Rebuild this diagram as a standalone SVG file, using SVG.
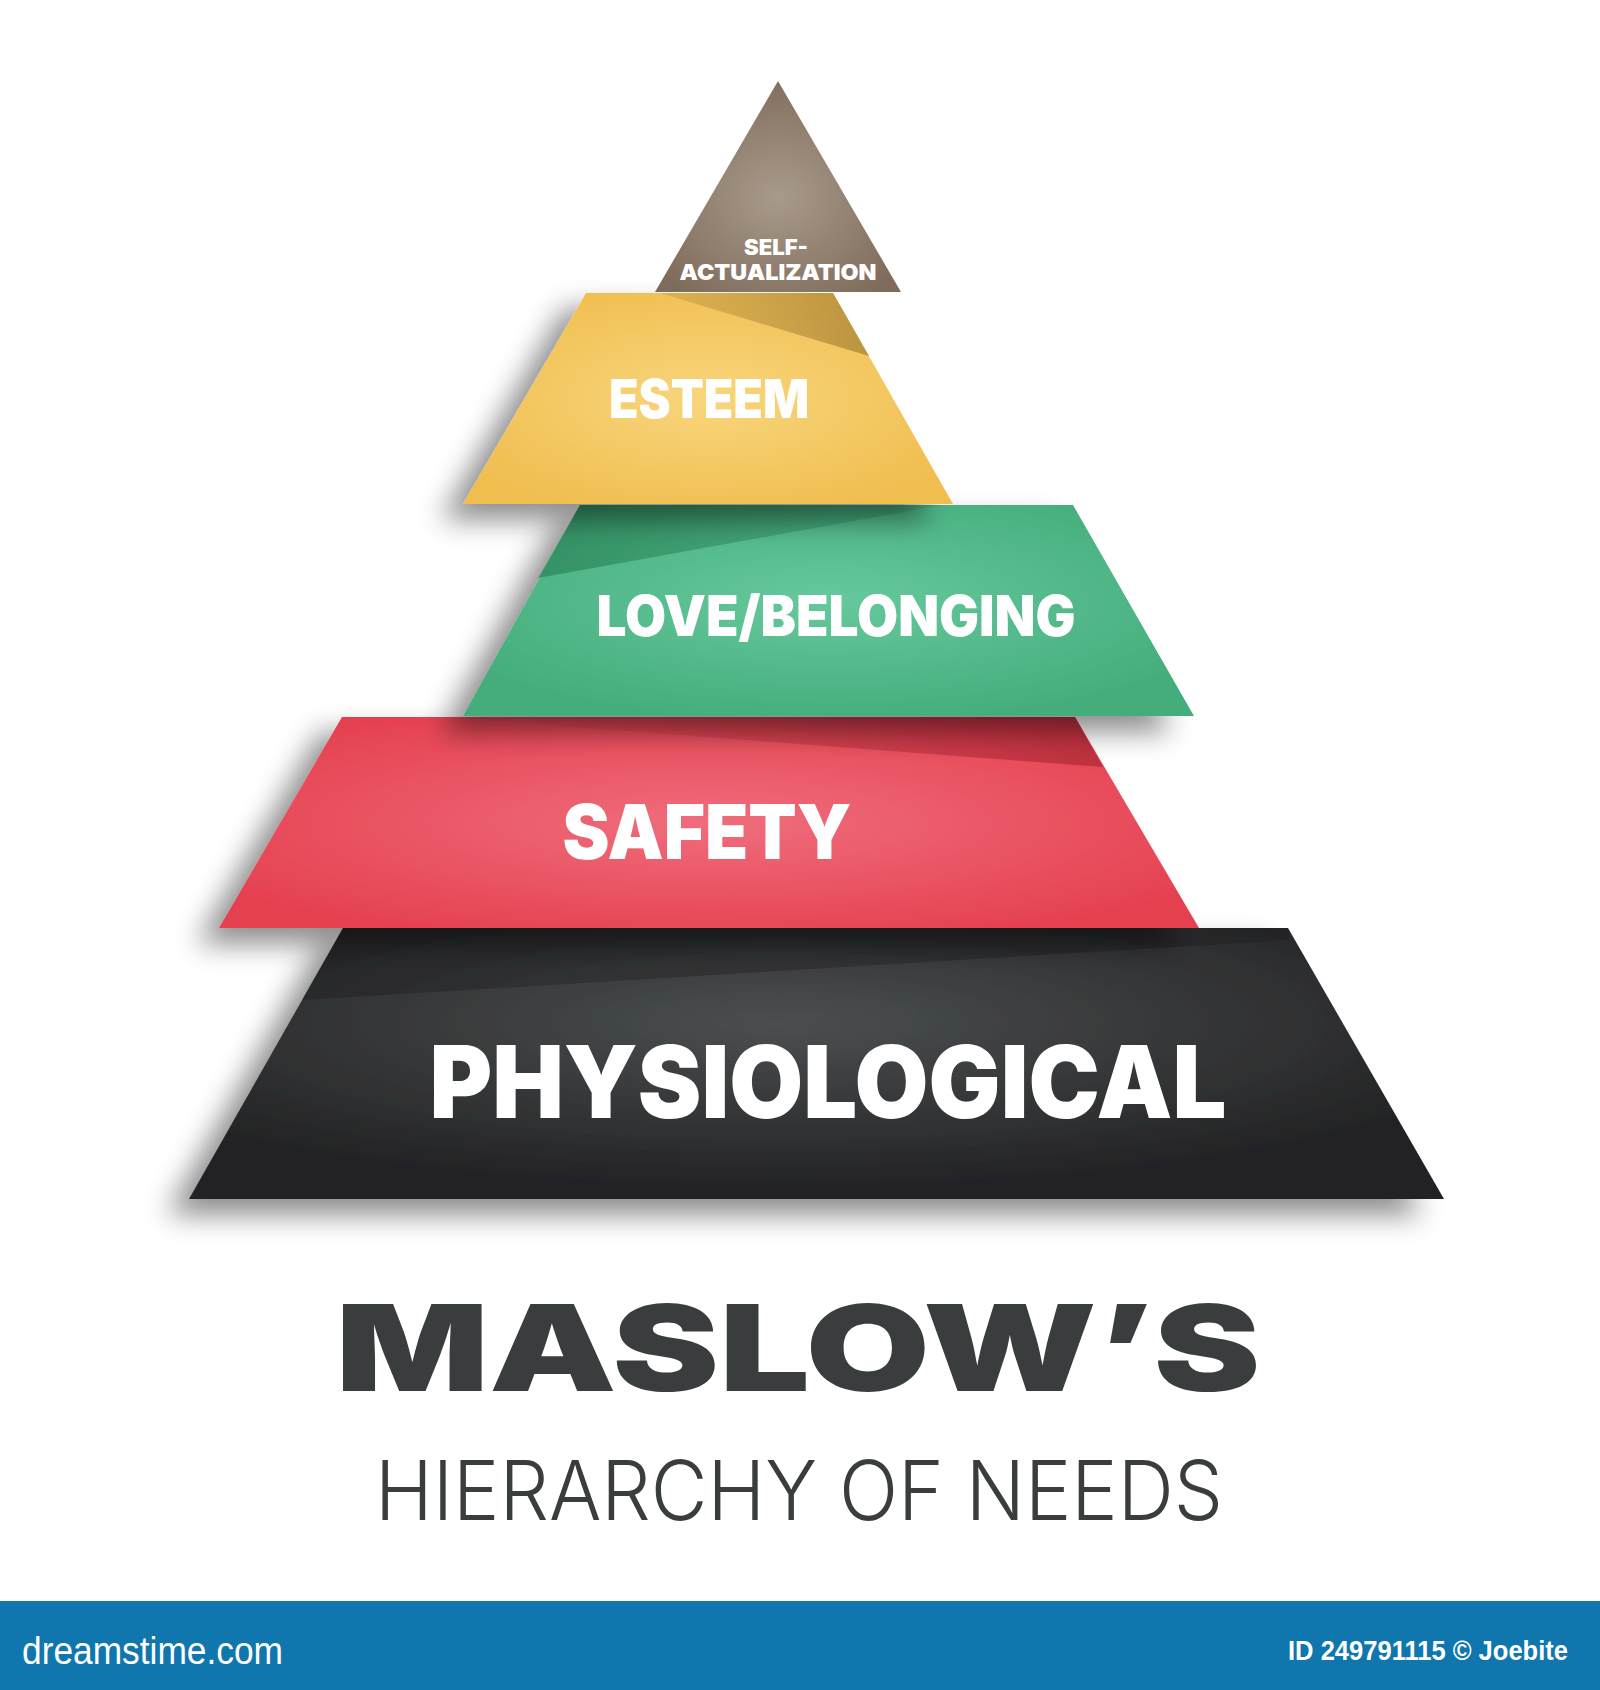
<svg xmlns="http://www.w3.org/2000/svg" width="1600" height="1690" viewBox="0 0 1600 1690">
<defs>
<style>
.lbl{font-family:Inter,"Open Sans","Liberation Sans",sans-serif;font-weight:900;fill:#ffffff;text-anchor:middle}
.title{font-family:Inter,"Open Sans","Liberation Sans",sans-serif;fill:#3a3d3e;text-anchor:middle}
.foot{font-family:"Liberation Sans",Arimo,sans-serif;fill:#ffffff}
</style>
<filter id="sh" x="-20%" y="-20%" width="140%" height="150%">
<feGaussianBlur in="SourceAlpha" stdDeviation="14"/>
<feOffset dx="-22" dy="16" result="b"/>
<feComponentTransfer><feFuncA type="linear" slope="0.45"/></feComponentTransfer>
<feMerge><feMergeNode/><feMergeNode in="SourceGraphic"/></feMerge>
</filter>
<radialGradient id="gTop" cx="0.5" cy="0.55" r="0.6"><stop offset="0" stop-color="#a89a8b"/><stop offset="1" stop-color="#7f6b5a"/></radialGradient>
<radialGradient id="gYel" cx="0.5" cy="0.5" r="0.6"><stop offset="0" stop-color="#f8d67c"/><stop offset="1" stop-color="#f0bd4f"/></radialGradient>
<radialGradient id="gGrn" cx="0.5" cy="0.45" r="0.6"><stop offset="0" stop-color="#66c99d"/><stop offset="1" stop-color="#44ac7b"/></radialGradient>
<radialGradient id="gRed" cx="0.5" cy="0.5" r="0.6"><stop offset="0" stop-color="#f06d7c"/><stop offset="1" stop-color="#e5404f"/></radialGradient>
<radialGradient id="gBlk" cx="0.47" cy="0.35" r="0.6"><stop offset="0" stop-color="#4b4e50"/><stop offset="1" stop-color="#232425"/></radialGradient>
<linearGradient id="bandRed" x1="0" y1="0" x2="1" y2="0"><stop offset="0" stop-color="#b02a38" stop-opacity="0"/><stop offset="1" stop-color="#b02a38" stop-opacity="0.75"/></linearGradient>
<linearGradient id="bandGrn" x1="0" y1="0" x2="1" y2="0"><stop offset="0" stop-color="#2f8a5e" stop-opacity="0.8"/><stop offset="1" stop-color="#2f8a5e" stop-opacity="0.3"/></linearGradient>
<linearGradient id="bandYel" x1="0" y1="0" x2="1" y2="0"><stop offset="0" stop-color="#b89040" stop-opacity="0.35"/><stop offset="1" stop-color="#a88436" stop-opacity="0.75"/></linearGradient>
</defs>
<rect x="0" y="0" width="1600" height="1690" fill="#ffffff"/>

<g id="physiological" filter="url(#sh)">
<polygon points="343,928 1288,928 1444,1199 189,1199" fill="url(#gBlk)"/>
<polygon points="343,928 1288,928 1289,940 302,1000" fill="#1a1b1c" opacity="0.35"/>
<text class="lbl" x="828" y="1118" font-size="100" textLength="797" lengthAdjust="spacingAndGlyphs">PHYSIOLOGICAL</text>
</g>

<g id="safety" filter="url(#sh)">
<polygon points="342,717 1075,717 1199,928 219,928" fill="url(#gRed)"/>
<polygon points="440,717 1075,717 1103,767" fill="url(#bandRed)"/>
<text class="lbl" x="707" y="859" font-size="76" textLength="289" lengthAdjust="spacingAndGlyphs">SAFETY</text>
</g>

<g id="love-belonging" filter="url(#sh)">
<polygon points="580,505 1073,505 1194,716 463,716" fill="url(#gGrn)"/>
<polygon points="580,505 942,505 538,578" fill="url(#bandGrn)"/>
<text class="lbl" x="836" y="636" font-size="56" textLength="479" lengthAdjust="spacingAndGlyphs">LOVE/BELONGING</text>
</g>

<g id="esteem" filter="url(#sh)">
<polygon points="586,293 833,293 953,504 463,504" fill="url(#gYel)"/>
<polygon points="660,293 833,293 869,356" fill="url(#bandYel)"/>
<text class="lbl" x="709" y="418" font-size="53" textLength="200" lengthAdjust="spacingAndGlyphs">ESTEEM</text>
</g>

<g id="self-actualization">
<polygon points="778,81 901,292 655,292" fill="url(#gTop)"/>
<text class="lbl" x="776" y="255" font-size="21" textLength="64" lengthAdjust="spacingAndGlyphs">SELF-</text>
<text class="lbl" x="778" y="280" font-size="22" textLength="197" lengthAdjust="spacingAndGlyphs">ACTUALIZATION</text>
</g>

<g id="connectors"></g>

<g id="title">
<text class="title" x="798" y="1391" font-size="120" font-weight="900" textLength="925" lengthAdjust="spacingAndGlyphs">MASLOW’S</text>
<text class="title" x="799" y="1520" font-size="82" font-weight="300" textLength="848" lengthAdjust="spacingAndGlyphs">HIERARCHY OF NEEDS</text>
</g>

<g id="footer">
<rect x="0" y="1601" width="1600" height="89" fill="#0f76ae"/>
<text class="foot" x="22" y="1664" font-size="38" textLength="261" lengthAdjust="spacingAndGlyphs">dreamstime.com</text>
<text class="foot" x="1288" y="1660" font-size="28" font-weight="700" textLength="280" lengthAdjust="spacingAndGlyphs">ID 249791115 © Joebite</text>
</g>
</svg>
